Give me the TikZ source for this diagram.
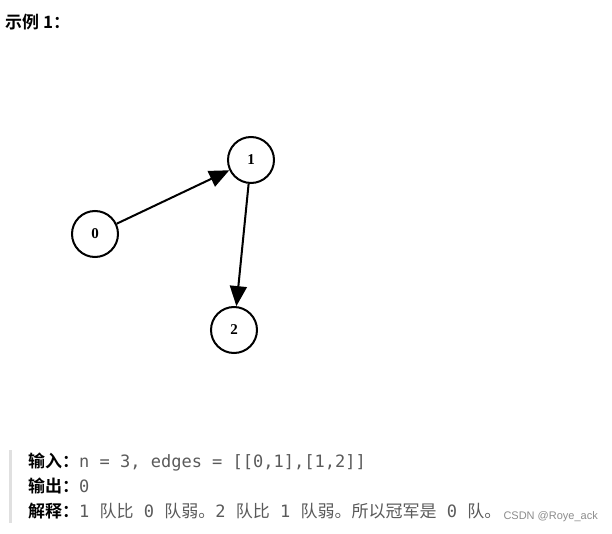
\documentclass[tikz,border=0pt]{standalone}
\usepackage{fontspec}
\setmainfont{Liberation Serif}
\newfontfamily\cjk{Noto Sans CJK SC}
\newfontfamily\cjkb{Noto Sans CJK SC Bold}
\newfontfamily\monof{DejaVu Sans Mono}
\newfontfamily\sansf{Liberation Sans}
\usetikzlibrary{arrows.meta}
\definecolor{txtgray}{RGB}{90,90,90}
\newcommand\mt[1]{{\monof\fontsize{17}{17}\selectfont #1}}
\newcommand\ct[1]{{\cjk\fontsize{17}{17}\selectfont #1}}
\begin{document}
\begin{tikzpicture}[x=1pt,y=-1pt,
  vert/.style={circle,draw,line width=2pt,minimum size=46pt,inner sep=0pt,font=\fontsize{15}{15}\selectfont\bfseries},
  edge/.style={line width=2pt,-{Triangle[length=20pt,width=17pt]}},
  lbl/.style={anchor=west,inner sep=0pt,font=\fontsize{17}{17}\selectfont}]
\useasboundingbox (0,0) rectangle (612,534);
\node[lbl,font=\fontsize{17}{17}\cjkb] (t) at (5,22) {示例 1：};
\node[vert] (n0) at (95,234) {0};
\node[vert] (n1) at (251,160) {1};
\node[vert] (n2) at (234,330) {2};
\draw[edge] (n0) -- (n1);
\draw[edge] (n1) -- (n2);
\fill[black!12] (9,450) rectangle (12,523);
\node[lbl] (l1) at (28,462) {{\cjkb 输入：}\textcolor{txtgray}{\mt{n = 3, edges = [[0,1],[1,2]]}}};
\node[lbl] (l2) at (28,486) {{\cjkb 输出：}\textcolor{txtgray}{\mt{0}}};
\node[lbl] (l3) at (28,511) {{\cjkb 解释：}\textcolor{txtgray}{\mt{1 }\ct{队比}\mt{ 0 }\ct{队弱。}\mt{2 }\ct{队比}\mt{ 1 }\ct{队弱。所以冠军是}\mt{ 0 }\ct{队。}}};
\node[anchor=east,inner sep=0pt,text=black!45,font=\fontsize{11}{11}\sansf] (wm) at (598,517) {CSDN @Roye\_ack};
\end{tikzpicture}
\end{document}
